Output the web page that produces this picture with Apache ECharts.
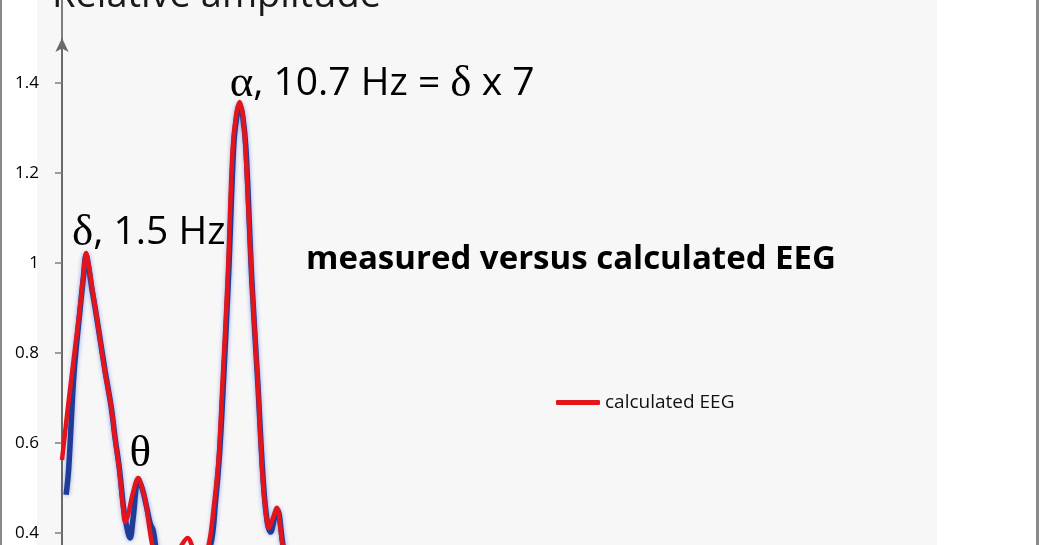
<!DOCTYPE html>
<html lang="en">
  <head>
    <meta charset="UTF-8" />
    <title>measured versus calculated EEG</title>
    <script src="https://cdn.jsdelivr.net/npm/echarts@6/dist/echarts.min.js"></script>
    <style>
      html, body { margin: 0; padding: 0; overflow: hidden; background: #fff; }
      /* the picture is a crop of a taller chart: the x axis sits below the window */
      #main { width: 1039px; height: 760px; }
    </style>
  </head>
  <body>
    <div id="main"></div>
    <script>
      // frequency in Hz / relative amplitude
      const freqCalc = [0, 0.36, 0.61, 0.85, 1.09, 1.3, 1.46, 1.62, 1.8, 2.01, 2.31, 2.61, 2.98, 3.22, 3.47, 3.7, 3.83, 4.0, 4.3, 4.62, 4.85, 5.05, 5.47, 6.0, 6.6, 7.2, 7.6, 8.0, 8.4, 8.88, 9.2, 9.48, 9.73, 10.03, 10.33, 10.55, 10.76, 10.95, 11.12, 11.49, 11.85, 12.16, 12.4, 12.52, 12.75, 13.01, 13.37, 14, 15, 16.5, 18, 20, 22, 25, 28, 32, 36, 40, 45, 50];
      const ampCalc = [0.562, 0.68, 0.756, 0.829, 0.902, 0.975, 1.022, 0.995, 0.95, 0.902, 0.829, 0.756, 0.68, 0.607, 0.54, 0.455, 0.424, 0.44, 0.49, 0.522, 0.5, 0.473, 0.373, 0.31, 0.33, 0.37, 0.389, 0.36, 0.33, 0.373, 0.46, 0.562, 0.74, 0.962, 1.251, 1.33, 1.358, 1.33, 1.251, 0.962, 0.74, 0.518, 0.43, 0.411, 0.43, 0.456, 0.373, 0.28, 0.22, 0.2, 0.17, 0.15, 0.14, 0.12, 0.1, 0.09, 0.08, 0.07, 0.06, 0.05];

      const freqMeas = [0.25, 0.4, 0.73, 1.09, 1.3, 1.46, 1.62, 1.8, 2.01, 2.31, 2.61, 2.98, 3.22, 3.47, 3.75, 4.0, 4.13, 4.3, 4.62, 4.85, 5.1, 5.35, 5.53, 5.8, 6.4, 7.0, 7.6, 8.2, 9.0, 9.3, 9.55, 9.8, 10.1, 10.4, 10.6, 10.76, 10.95, 11.15, 11.5, 11.85, 12.2, 12.45, 12.64, 12.85, 13.05, 13.4, 14, 15, 16.5, 18, 20, 22, 25, 28, 32, 36, 40, 45, 50];
      const ampMeas = [0.485, 0.54, 0.756, 0.895, 0.97, 1.018, 0.99, 0.945, 0.9, 0.83, 0.76, 0.68, 0.61, 0.545, 0.45, 0.4, 0.389, 0.43, 0.518, 0.5, 0.462, 0.42, 0.405, 0.34, 0.27, 0.28, 0.3, 0.3, 0.373, 0.47, 0.58, 0.75, 0.98, 1.26, 1.33, 1.352, 1.325, 1.25, 0.96, 0.74, 0.51, 0.42, 0.402, 0.43, 0.451, 0.37, 0.27, 0.21, 0.19, 0.16, 0.14, 0.13, 0.11, 0.1, 0.09, 0.08, 0.07, 0.06, 0.05];

      const yTicks = [0.4, 0.6, 0.8, 1, 1.2, 1.4];

      const sans = 'Open Sans';
      const serif = 'Liberation Serif';

      function pairs(xs, ys) {
        return xs.map((x, i) => [x, ys[i]]);
      }
      // highest point of a series inside a frequency band
      function peakIn(xs, ys, lo, hi) {
        let best = -1;
        xs.forEach((x, i) => {
          if (x >= lo && x <= hi && (best < 0 || ys[i] > ys[best])) best = i;
        });
        return [xs[best], ys[best]];
      }

      const chart = echarts.init(document.getElementById('main'));
      const option = {
        animation: false,
        backgroundColor: '#fff',
        title: [
          {
            text: 'Relative amplitude',
            left: 52, top: -23, padding: 0,
            textStyle: { fontFamily: sans, fontSize: 38, fontWeight: 'normal', color: '#1a1a1a' }
          },
          {
            text: 'measured versus calculated EEG',
            left: 306, top: 243, padding: 0,
            textStyle: { fontFamily: sans, fontSize: 33, fontWeight: 'bold', color: '#000' }
          }
        ],
        legend: {
          data: ['calculated EEG'],
          left: 556, top: 393, padding: 0,
          icon: 'roundRect', itemWidth: 44, itemHeight: 5,
          textStyle: { fontFamily: sans, fontSize: 19, color: '#111' }
        },
        grid: { left: 62, right: 102, top: 38, bottom: 47, outerBoundsMode: 'none' },
        xAxis: {
          type: 'value', min: 0, max: 53,
          splitLine: { show: false },
          axisLine: { lineStyle: { color: '#7f7f7f', width: 2 } },
          axisLabel: { show: false },
          axisTick: { show: false }
        },
        yAxis: {
          type: 'value', min: 0, max: 1.5, interval: 0.1,
          splitLine: { show: false },
          axisLine: {
            show: true, symbol: ['none', 'arrow'], symbolSize: [10, 14],
            lineStyle: { color: '#6a6a6a', width: 2 }
          },
          axisTick: { show: true, length: 7, customValues: yTicks, lineStyle: { color: '#7f7f7f', width: 1.5 } },
          axisLabel: { customValues: yTicks, margin: 23, fontFamily: sans, fontSize: 17, color: '#000' }
        },
        graphic: [
          { type: 'rect', z: -100, silent: true, shape: { x: 37, y: 0, width: 900, height: 760 }, style: { fill: '#f7f7f7' } },
          { type: 'rect', z: 100, silent: true, shape: { x: 0, y: 0, width: 2, height: 760 }, style: { fill: '#8a8a8a' } },
          { type: 'rect', z: 100, silent: true, shape: { x: 1036, y: 0, width: 3, height: 760 }, style: { fill: '#8a8a8a' } },
          { type: 'line', z: 100, silent: true, shape: { x1: 62, y1: 0, x2: 62, y2: 38 }, style: { stroke: '#7f7f7f', lineWidth: 2 } }
        ],
        series: [
          {
            name: 'measured EEG',
            type: 'line',
            data: pairs(freqMeas, ampMeas),
            smooth: 0.35,
            showSymbol: false,
            lineStyle: { color: '#1f3c98', width: 5.5, shadowBlur: 4, shadowColor: 'rgba(70,100,210,0.6)' }
          },
          {
            name: 'calculated EEG',
            type: 'line',
            data: pairs(freqCalc, ampCalc),
            smooth: 0.35,
            showSymbol: false,
            itemStyle: { color: '#e4141b' },
            lineStyle: { color: '#e4141b', width: 4.5 },
            markPoint: {
              silent: true,
              symbol: 'circle', symbolSize: 1,
              itemStyle: { color: 'rgba(0,0,0,0)' },
              label: {
                show: true, position: 'top', distance: 0, color: '#000',
                rich: {
                  g: { fontFamily: serif, fontSize: 45, color: '#000' },
                  s: { fontFamily: sans, fontSize: 39, color: '#000' }
                }
              },
              data: [
                {
                  coord: peakIn(freqCalc, ampCalc, 0, 3),
                  label: { formatter: '{g|δ}{s|, 1.5 Hz}', align: 'left', offset: [-14, 3] }
                },
                {
                  coord: peakIn(freqCalc, ampCalc, 4, 5.5),
                  label: { formatter: '{g|θ}', align: 'center', offset: [2, -1] }
                },
                {
                  coord: peakIn(freqCalc, ampCalc, 9, 12),
                  label: { formatter: '{g|α}{s|, 10.7 Hz = }{g|δ}{s| x 7}', align: 'left', offset: [-10, 5] }
                }
              ]
            }
          }
        ]
      };
      chart.setOption(option);
    </script>
  </body>
</html>
